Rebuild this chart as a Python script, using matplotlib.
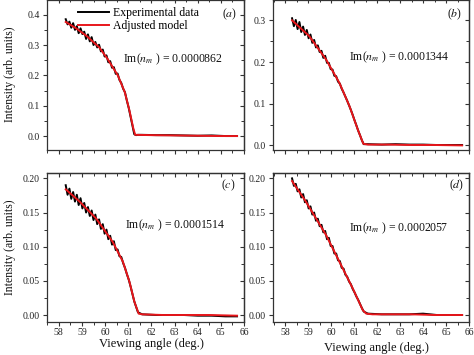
import matplotlib
matplotlib.use("Agg")
import matplotlib.pyplot as plt
from matplotlib.ticker import MultipleLocator, FormatStrFormatter

plt.rcParams['font.family'] = ['Liberation Serif', 'DejaVu Serif']
plt.rcParams['mathtext.fontset'] = 'stix'

# ---------------- data ----------------
exp_x_drop = [58.30, 58.38, 58.46, 58.54, 58.62, 58.70, 58.78, 58.86, 58.94, 59.02,
              59.10, 59.18, 59.26, 59.34, 59.42, 59.50, 59.58, 59.66, 59.74, 59.82,
              59.90, 59.98, 60.06, 60.14, 60.22, 60.30, 60.38, 60.46, 60.54, 60.62,
              60.70, 60.78, 60.86, 60.94, 61.02, 61.10, 61.18, 61.26, 61.34, 61.42]
exp_x_tail = [61.6, 62.2, 62.8, 63.4, 64.0, 64.6, 65.2, 65.7]

exp_a = [0.385, 0.368, 0.377, 0.357, 0.372, 0.350, 0.362, 0.339, 0.355, 0.336,
         0.344, 0.320, 0.335, 0.312, 0.326, 0.300, 0.310, 0.292, 0.301, 0.279,
         0.285, 0.262, 0.266, 0.243, 0.247, 0.225, 0.227, 0.205, 0.206, 0.185,
         0.175, 0.156, 0.144, 0.117, 0.093, 0.064, 0.035, 0.006, 0.003, 0.004,
         0.004, 0.003, 0.003, 0.002, 0.001, 0.002, 0.000, 0.000]
exp_b = [0.305, 0.286, 0.301, 0.279, 0.296, 0.272, 0.285, 0.265, 0.277, 0.257,
         0.266, 0.246, 0.253, 0.235, 0.240, 0.224, 0.227, 0.210, 0.215, 0.198,
         0.198, 0.183, 0.182, 0.167, 0.166, 0.153, 0.148, 0.136, 0.127, 0.117,
         0.107, 0.096, 0.085, 0.073, 0.060, 0.048, 0.035, 0.024, 0.012, 0.003,
         0.003, 0.002, 0.003, 0.002, 0.002, 0.001, 0.001, 0.001]
exp_c = [0.190, 0.176, 0.185, 0.170, 0.180, 0.166, 0.176, 0.161, 0.171, 0.156,
         0.164, 0.150, 0.158, 0.145, 0.153, 0.139, 0.147, 0.133, 0.140, 0.126,
         0.133, 0.119, 0.125, 0.111, 0.116, 0.103, 0.108, 0.095, 0.096, 0.086,
         0.085, 0.076, 0.069, 0.060, 0.052, 0.042, 0.031, 0.020, 0.012, 0.004,
         0.001, 0.000, 0.000, 0.000, -0.001, -0.001, -0.002, -0.002]
exp_d = [0.200, 0.189, 0.192, 0.181, 0.184, 0.172, 0.177, 0.165, 0.168, 0.156,
         0.159, 0.147, 0.150, 0.138, 0.141, 0.130, 0.132, 0.121, 0.123, 0.111,
         0.113, 0.101, 0.101, 0.090, 0.090, 0.080, 0.079, 0.069, 0.068, 0.059,
         0.056, 0.049, 0.045, 0.038, 0.033, 0.027, 0.022, 0.016, 0.010, 0.005,
         0.002, 0.001, 0.001, 0.001, 0.002, 0.000, 0.000, 0.000]

model_a_x = [58.3, 58.75, 59.2, 59.75, 60.1, 60.55, 60.85, 61.05, 61.22, 61.3, 62.0, 63.0, 64.0, 65.0, 65.7]
model_a_y = [0.376, 0.355, 0.330, 0.292, 0.255, 0.200, 0.145, 0.085, 0.025, 0.004, 0.003, 0.002, 0.001, 0.0, 0.0]
model_b_x = [58.3, 59.05, 59.78, 60.36, 60.8, 61.16, 61.4, 61.6, 62.5, 63.5, 64.5, 65.7]
model_b_y = [0.300, 0.262, 0.206, 0.150, 0.094, 0.038, 0.004, 0.002, 0.002, 0.001, 0.001, 0.0]
model_c_x = [58.3, 58.9, 59.62, 60.33, 60.77, 61.05, 61.27, 61.45, 61.6, 62.5, 63.5, 64.5, 65.7]
model_c_y = [0.184, 0.166, 0.141, 0.107, 0.078, 0.049, 0.019, 0.002, 0.001, 0.0, 0.0, 0.0, -0.001]
model_d_x = [58.3, 58.9, 59.78, 60.36, 60.94, 61.38, 61.53, 61.8, 62.5, 63.5, 64.5, 65.7]
model_d_y = [0.196, 0.166, 0.117, 0.078, 0.039, 0.007, 0.002, 0.001, 0.001, 0.001, 0.0, 0.0]

im_values = ['0.0000862', '0.0001344', '0.0001514', '0.0002057']
panel_tags = ['a', 'b', 'c', 'd']
x_ticks = [58, 59, 60, 61, 62, 63, 64, 65, 66]

# ---------------- figure ----------------
fig = plt.figure(figsize=(4.74, 3.55), dpi=100)
W, H = 474.0, 355.0

def rect(l, r, t, b):
    return [l / W, 1 - b / H, (r - l) / W, (b - t) / H]

axes_rects = [rect(46.5, 244, -0.5, 150), rect(273, 469, -0.5, 150),
              rect(46.5, 244, 172.7, 321.7), rect(273, 469, 172.7, 321.7)]
ylims = [(-0.046, 0.45), (-0.011, 0.35), (-0.0098, 0.2083), (-0.0098, 0.2083)]
ymajor = [0.1, 0.1, 0.05, 0.05]
yfmt = ['%.1f', '%.1f', '%.2f', '%.2f']
exps = [exp_a, exp_b, exp_c, exp_d]
models = [(model_a_x, model_a_y), (model_b_x, model_b_y), (model_c_x, model_c_y), (model_d_x, model_d_y)]
im_pos = [(0.387, 0.60), (0.388, 0.613), (0.397, 0.649), (0.388, 0.627)]
tag_pos = [(0.965, 0.90), (0.965, 0.90), (0.955, 0.915), (0.975, 0.915)]

spine_col = '#333333'
for i in range(4):
    ax = fig.add_axes(axes_rects[i])
    ex = exp_x_drop + exp_x_tail
    l1, = ax.plot(ex, exps[i], color='black', lw=1.4, label='Experimental data', zorder=2)
    l2, = ax.plot(models[i][0], models[i][1], color='#e8161b', lw=1.4, label='Adjusted model', zorder=3)
    ax.set_xlim(57.47, 66.0)
    ax.set_ylim(*ylims[i])
    ax.set_xticks(x_ticks)
    ax.xaxis.set_minor_locator(MultipleLocator(0.5))
    ax.yaxis.set_major_locator(MultipleLocator(ymajor[i]))
    ax.yaxis.set_minor_locator(MultipleLocator(ymajor[i] / 2))
    ax.yaxis.set_major_formatter(FormatStrFormatter(yfmt[i]))
    ax.tick_params(which='major', direction='out', length=3, width=0.8, labelsize=7,
                   pad=2, color=spine_col, labelcolor='#222222')
    ax.tick_params(axis='x', which='major', pad=1.5)
    ax.tick_params(which='minor', direction='out', length=2, width=0.7, color=spine_col)
    if i < 2:
        ax.tick_params(labelbottom=False)
    for s in ax.spines.values():
        s.set_color(spine_col)
        s.set_linewidth(0.9)
    # mirrored inward ticks on top / right
    sx = ax.secondary_xaxis('top')
    sx.set_xticks(x_ticks)
    sx.xaxis.set_minor_locator(MultipleLocator(0.5))
    sx.tick_params(which='major', direction='in', length=3, width=0.8, labeltop=False, color=spine_col)
    sx.tick_params(which='minor', direction='in', length=2, width=0.7, color=spine_col)
    sy = ax.secondary_yaxis('right')
    sy.yaxis.set_major_locator(MultipleLocator(ymajor[i]))
    sy.yaxis.set_minor_locator(MultipleLocator(ymajor[i] / 2))
    sy.tick_params(which='major', direction='in', length=3, width=0.8, labelright=False, color=spine_col)
    sy.tick_params(which='minor', direction='in', length=2, width=0.7, color=spine_col)
    for s in list(sx.spines.values()) + list(sy.spines.values()):
        s.set_color(spine_col)
        s.set_linewidth(0.9)

    ax.text(im_pos[i][0], im_pos[i][1], r'Im($n_m$ ) = ' + im_values[i], transform=ax.transAxes,
            fontsize=8.5, ha='left', va='center', color='#111111')
    ax.text(tag_pos[i][0], tag_pos[i][1], '($' + panel_tags[i] + '$)', transform=ax.transAxes,
            fontsize=8.5, ha='right', va='center', color='#111111')

    if i % 2 == 0:
        ax.set_ylabel('Intensity (arb. units)', fontsize=8.5, color='#111111')
        ax.yaxis.set_label_coords(-0.155, 0.5)
    if i >= 2:
        ax.set_xlabel('Viewing angle (deg.)', fontsize=9, color='#111111')
        if i == 2:
            ax.xaxis.set_label_coords(0.53, -0.11)
        else:
            ax.xaxis.set_label_coords(0.53, -0.135)
    if i == 0:
        ax.legend(handles=[l1, l2], loc='upper left', bbox_to_anchor=(0.15, 0.968),
                  frameon=False, fontsize=8.5, handlelength=2.6, handletextpad=0.3,
                  labelspacing=0.1, borderpad=0.2, borderaxespad=0.0)

fig.savefig('out.png', dpi=100)
